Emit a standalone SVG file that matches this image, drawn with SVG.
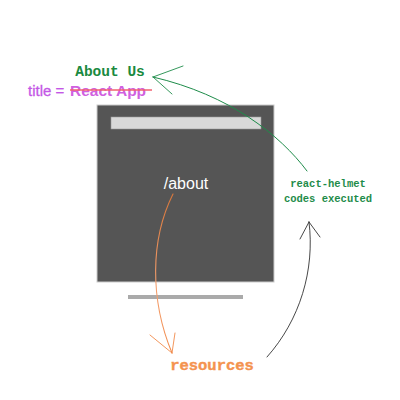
<svg xmlns="http://www.w3.org/2000/svg" width="400" height="400" viewBox="0 0 400 400">
<defs>
<linearGradient id="og" x1="0" y1="0" x2="0" y2="1"><stop offset="0" stop-color="#d9773a"/><stop offset="0.6" stop-color="#f4a070"/><stop offset="1" stop-color="#f08a4b"/></linearGradient>
</defs>
<style>
.mono{font-family:"Liberation Mono","Courier New",monospace;font-weight:bold}
.sans{font-family:"Liberation Sans",Arial,sans-serif}
.ln{fill:none;stroke-linecap:round}
</style>
<rect width="400" height="400" fill="#fff"/>
<g id="browser">
<rect x="97" y="105" width="177" height="177" fill="#555" stroke="#ccc" stroke-width="1"/>
<rect x="111" y="117" width="150" height="12" fill="#d9d9d9" stroke="#999" stroke-width="0.6"/>
<rect x="128" y="295" width="115" height="4" fill="#aaa"/>
<text x="186" y="189" class="sans" font-size="16" fill="#fff" text-anchor="middle">/about</text>
</g>
<g id="title">
<text x="28" y="96" class="sans" font-size="15" fill="#c457e6" stroke="#c457e6" stroke-width="0.3">title = </text>
<text x="70" y="96" class="sans" font-size="15.5" font-weight="bold" fill="#d060e0">React App</text>
<line x1="70" y1="90" x2="152" y2="90" stroke="#f06070" stroke-width="1.6"/>
</g>
<g id="about-us">
<text x="110" y="76" class="mono" font-size="14.5" fill="#1a8a40" text-anchor="middle">About Us</text>
</g>
<g id="react-helmet">
<text x="328" y="187" class="mono" font-size="10.5" fill="#1e8c4a" text-anchor="middle">react-helmet</text>
<text x="328" y="202" class="mono" font-size="10.5" fill="#1e8c4a" text-anchor="middle">codes executed</text>
</g>
<g id="resources">
<text x="212" y="370" class="mono" font-size="15.5" font-weight="normal" fill="#f4934f" text-anchor="middle" stroke="#f4934f" stroke-width="0.4">resources</text>
</g>
<g id="connectors">
<path class="ln" d="M307,171 C280,135 230,95 153,77" stroke="#1e8c4a" stroke-width="1"/>
<path class="ln" d="M153,77 L183,66 M153,77 L172,94" stroke="#1e8c4a" stroke-width="0.9"/>
<path class="ln" d="M173,194 C150,240 150,300 172,353" stroke="url(#og)" stroke-width="1.1"/>
<path class="ln" d="M172,353 L150,335 M172,353 L175,333" stroke="#f08a4b" stroke-width="0.9"/>
<path class="ln" d="M267,357 C300,320 315,270 309,222" stroke="#333" stroke-width="0.9"/>
<path class="ln" d="M309,222 L300,239 M309,222 L320,237" stroke="#333" stroke-width="0.9"/>
</g>
</svg>
